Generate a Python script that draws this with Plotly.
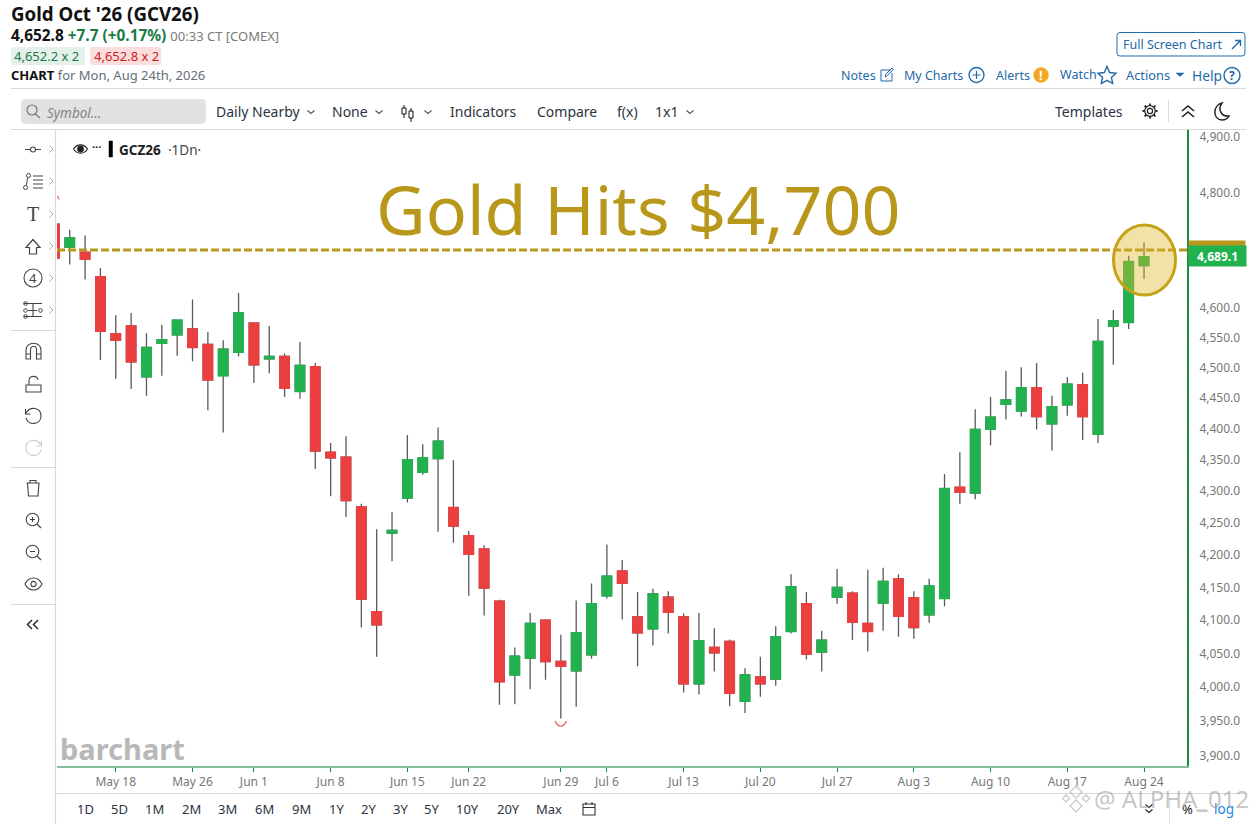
import math, re
import plotly.graph_objects as go

W, H = 1256, 824
FONT = "Noto Sans"

# Daily session numbers (session -1 is cut off by the left edge of the chart)
sessions = list(range(-1, 71))
opens = [4745, 4705, 4696, 4654, 4557, 4570, 4485, 4541, 4555, 4565, 4539, 4487, 4526, 4575, 4515, 4519,
         4461, 4502, 4362, 4354, 4275, 4113, 4234, 4289, 4330, 4352, 4274, 4230, 4209, 4129, 4018, 4043,
         4100, 4038, 4024, 4048, 4137, 4175, 4105, 4087, 4135, 4105, 4005, 4059, 4068, 3979, 4015, 4012,
         4083, 4125, 4052, 4135, 4141, 4095, 4126, 4163, 4134, 4108, 4133, 4306, 4297, 4399, 4440, 4429,
         4467, 4408, 4439, 4472, 4391, 4570, 4576, 4673]
highs = [4790, 4735, 4725, 4669, 4588, 4592, 4558, 4572, 4580, 4615, 4560, 4546, 4626, 4576, 4570, 4524,
         4543, 4508, 4377, 4388, 4280, 4240, 4267, 4390, 4375, 4402, 4349, 4237, 4215, 4131, 4059, 4111,
         4101, 4078, 4130, 4156, 4216, 4192, 4143, 4148, 4144, 4110, 4111, 4088, 4071, 4028, 4045, 4091,
         4170, 4143, 4084, 4178, 4144, 4177, 4180, 4170, 4144, 4163, 4327, 4362, 4432, 4452, 4495, 4501,
         4508, 4454, 4485, 4492, 4582, 4597, 4690, 4713]
lows = [4680, 4675, 4649, 4513, 4482, 4465, 4454, 4487, 4520, 4511, 4430, 4394, 4519, 4475, 4491, 4452,
        4449, 4335, 4292, 4259, 4089, 4045, 4190, 4282, 4326, 4236, 4219, 4137, 4107, 3974, 3975, 3997,
        4011, 3954, 3971, 4042, 4133, 4101, 4031, 4062, 4080, 3992, 3989, 4023, 3972, 3962, 3986, 4002,
        4080, 4041, 4023, 4125, 4070, 4053, 4084, 4075, 4072, 4096, 4121, 4280, 4287, 4373, 4415, 4420,
        4399, 4365, 4421, 4382, 4377, 4505, 4565, 4650]
closes = [4686, 4721, 4684, 4561, 4546, 4510, 4534, 4547, 4580, 4534, 4480, 4531, 4592, 4505, 4519, 4466,
          4504, 4364, 4353, 4285, 4132, 4093, 4238, 4350, 4353, 4380, 4245, 4201, 4149, 4008, 4046, 4095,
          4038, 4031, 4081, 4125, 4167, 4156, 4081, 4140, 4112, 4005, 4069, 4051, 3991, 4018, 4005, 4075,
          4151, 4049, 4070, 4150, 4097, 4083, 4159, 4106, 4089, 4152, 4304, 4298, 4399, 4419, 4447, 4467,
          4420, 4436, 4473, 4420, 4544, 4579, 4680, 4688]

tick_sessions = [3, 8, 12, 17, 22, 26, 32, 35, 40, 45, 50, 55, 60, 65, 70]
tick_labels = ["May 18", "May 26", "Jun 1", "Jun 8", "Jun 15", "Jun 22", "Jun 29", "Jul 6", "Jul 13",
               "Jul 20", "Jul 27", "Aug 3", "Aug 10", "Aug 17", "Aug 24"]
price_ticks = [4900, 4800, 4600, 4550, 4500, 4450, 4400, 4350, 4300, 4250, 4200, 4150, 4100, 4050, 4000,
               3950, 3900]
alert_level = 4700
last_price = 4689.1
range_buttons = ["1D", "5D", "1M", "2M", "3M", "6M", "9M", "1Y", "2Y", "3Y", "5Y", "10Y", "20Y", "Max"]
range_button_x = [85, 119, 154, 191, 228, 264, 301, 336, 368, 400, 431, 468, 508, 549]

UP, DOWN = "#22b14f", "#ec3f40"
GOLD = "#b8971a"
BLUE = "#1f6aa8"
INK = "#2b3440"
GREY = "#777777"


def fx(x):
    return x / W


def fy(y):
    return 1 - y / H


def pth(d):
    """Page-pixel path to paper coordinates."""
    toks = re.findall(r"[MLQCZ]|-?\d+\.?\d*", d)
    out = []
    isx = True
    for t in toks:
        if t in "MLQCZ":
            out.append(t)
            isx = True
        else:
            v = float(t)
            out.append(f"{fx(v):.5f}" if isx else f"{fy(v):.5f}")
            isx = not isx
    return " ".join(out)


shapes, notes = [], []


def P(d, color=INK, width=1.2, fill=None):
    shapes.append(dict(type="path", xref="paper", yref="paper", path=pth(d),
                       line=dict(color=color, width=width),
                       fillcolor=fill if fill else "rgba(0,0,0,0)", layer="above"))


def C(cx, cy, rx, ry=None, color=INK, width=1.2, fill=None):
    ry = rx if ry is None else ry
    shapes.append(dict(type="circle", xref="paper", yref="paper", x0=fx(cx - rx), x1=fx(cx + rx),
                       y0=fy(cy + ry), y1=fy(cy - ry), line=dict(color=color, width=width),
                       fillcolor=fill if fill else "rgba(0,0,0,0)", layer="above"))


def T(x, y, text, size=14, color=INK, anchor="left", family=FONT, **kw):
    notes.append(dict(xref="paper", yref="paper", x=fx(x), y=fy(y), text=text, showarrow=False,
                      xanchor=anchor, yanchor="middle", borderpad=0, borderwidth=0,
                      font=dict(family=family, size=size, color=color), **kw))


def chev(x, y, color="#555555"):
    P(f"M{x-3.5} {y-1.5} L{x} {y+1.5} L{x+3.5} {y-1.5}", color=color, width=1.1)


# ---------- page chrome ----------
T(11, 13, "<b>Gold Oct '26 (GCV26)</b>", 18.7, "#111111")
T(11, 35, "<b>4,652.8</b> <b><span style='color:#1c7a45'>+7.7 (+0.17%)</span></b> "
          "<span style='color:#7a7a7a;font-size:13px'>00:33 CT [COMEX]</span>", 15.4, "#111111")
T(14, 56.5, "4,652.2 x 2", 13, "#1f7a45")
T(94, 56.5, "4,652.8 x 2", 13, "#cc1b1b")
P("M14 47 L82 47 Q85 47 85 50 L85 62 Q85 65 82 65 L14 65 Q11 65 11 62 L11 50 Q11 47 14 47 Z",
  color="rgba(0,0,0,0)", width=0, fill="rgba(30,130,80,0.12)")
P("M93 47 L158 47 Q161 47 161 50 L161 62 Q161 65 158 65 L93 65 Q90 65 90 62 L90 50 Q90 47 93 47 Z",
  color="rgba(0,0,0,0)", width=0, fill="rgba(225,60,60,0.17)")
T(11, 75, "<b>CHART</b> <span style='color:#666e78'>for Mon, Aug 24th, 2026</span>", 13, "#111111")

for d in ("M11 88.5 L1246 88.5", "M11 129.5 L1246 129.5", "M56 793.5 L1246 793.5"):
    P(d, color="#d8d8d8", width=1)
P("M55.5 129 L55.5 824", color="#d8d8d8", width=1.2)

# search box
P("M26 99 L201 99 Q206 99 206 104 L206 119 Q206 124 201 124 L26 124 Q21 124 21 119 L21 104 Q21 99 26 99 Z",
  color="rgba(0,0,0,0)", width=0, fill="#e2e2e2")
C(32, 110, 5, color="#777777", width=1.2)
P("M35.5 114 L40 118", color="#777777", width=1.2)
T(47, 112.5, "<i>Symbol...</i>", 13.5, "#858585")

# toolbar
T(216, 112, "Daily Nearby", 14, INK)
chev(311, 112)
T(332, 112, "None", 14, INK)
chev(379, 112)
P("M404 105 L404 108 M404 114 L404 118 M411 108 L411 111 M411 118 L411 122", color="#111111", width=1)
P("M402 108 L406 108 L406 114 L402 114 Z M409 111 L413 111 L413 118 L409 118 Z", color="#111111", width=1)
chev(428, 112)
T(450, 112, "Indicators", 14, INK)
T(537, 112, "Compare", 14, INK)
T(617, 112, "f(x)", 14, INK)
T(655, 112, "1x1", 14, INK)
chev(690, 112)
T(1055, 112, "Templates", 14, INK)
C(1150, 111, 2.6, color="#222222", width=1.2)
C(1150, 111, 5.3, color="#222222", width=1.2)
for k in range(8):
    a = k * math.pi / 4
    x0, y0 = 1150 + 5.3 * math.cos(a), 111 + 5.3 * math.sin(a)
    x1, y1 = 1150 + 7.6 * math.cos(a), 111 + 7.6 * math.sin(a)
    P(f"M{x0:.2f} {y0:.2f} L{x1:.2f} {y1:.2f}", color="#222222", width=1.8)
P("M1168.5 100 L1168.5 122", color="#dddddd", width=1)
P("M1182 111 L1188 106 L1194 111 M1182 117 L1188 112 L1194 117", color="#222222", width=1.6)
P("M1222 103 C1213 105 1212 119 1222 120 C1226 120 1228 118 1229 116 C1222 117 1217 110 1222 103 Z",
  color="#222222", width=1.5)

# top right links
P("M1120 32.5 L1242 32.5 Q1245 32.5 1245 35.5 L1245 53 Q1245 56 1242 56 L1120 56 Q1117 56 1117 53 "
  "L1117 35.5 Q1117 32.5 1120 32.5 Z", color="#1f6fb2", width=1)
T(1123, 44.5, "Full Screen Chart", 12.5, BLUE)
P("M1232 49 L1240 41 M1235 40.5 L1240.5 40.5 L1240.5 46", color=BLUE, width=1.4)
T(841, 75, "Notes", 12.5, BLUE)
P("M891 70 L881 70 L881 81 L892 81 L892 73 M885 77 L886 74 L892 68 L893.5 69.5 L887.5 75.5 Z", color=BLUE, width=1)
T(904, 75, "My Charts", 12.5, BLUE)
C(976.5, 75, 7.5, color=BLUE, width=1.3)
P("M976.5 71 L976.5 79 M972.5 75 L980.5 75", color=BLUE, width=1.2)
T(996, 75.5, "Alerts", 12.5, BLUE)
C(1041, 75, 7.5, color="#f5a623", width=0.5, fill="#f5a623")
T(1041, 75, "<b>!</b>", 13, "#ffffff", anchor="center")
T(1060, 74.5, "Watch", 12.5, BLUE)
P("M1107 66.5 L1109.7 72.5 L1116 73.2 L1111.4 77.4 L1112.7 83.5 L1107 80.4 L1101.3 83.5 L1102.6 77.4 "
  "L1098 73.2 L1104.3 72.5 Z", color=BLUE, width=1.4)
T(1126, 75.5, "Actions", 12.8, BLUE)
P("M1176 73 L1184 73 L1180 76.5 Z", color=BLUE, width=0.5, fill=BLUE)
T(1192, 76, "Help", 13.8, BLUE)
C(1232, 75.5, 8, color=BLUE, width=1.4)
T(1232, 75.5, "<b>?</b>", 12, BLUE, anchor="center")

# sidebar
SI = "#444444"
for cy in (149, 181, 214, 246, 278, 310):
    P(f"M49.5 {cy-3.5} L53 {cy} L49.5 {cy+3.5}", color="#aaaaaa", width=1)
for y in (330, 467, 604):
    P(f"M11 {y}.5 L55 {y}.5", color="#d8d8d8", width=1)
P("M25 149.5 L30.5 149.5 M35.5 149.5 L41 149.5", color=SI, width=1.2)
C(33, 149.5, 2.5, color=SI, width=1.1)
C(28.5, 175.5, 2, color=SI, width=1)
C(25.5, 187.5, 2, color=SI, width=1)
P("M27.8 177.5 L26.2 185.5 M33 176 L43 176 M33 180 L43 180 M33 184 L43 184 M33 188 L43 188", color=SI, width=1)
T(33, 214, "T", 20, "#444444", anchor="center", family="Liberation Serif")
P("M33 239.5 L40 247.5 L36.5 247.5 L36.5 254 L29.5 254 L29.5 247.5 L26 247.5 Z", color=SI, width=1.2)
C(33, 278, 9, color=SI, width=1.1)
T(33, 278.5, "4", 13, "#444444", anchor="center")
P("M24 303.5 L42 303.5 M24 316.5 L42 316.5 M28 310.5 L37 310.5 M33 304 L33 316", color=SI, width=1.1)
C(25.5, 303.5, 1.8, color=SI, width=1)
C(25.5, 310.5, 1.8, color=SI, width=1)
C(25.5, 316.5, 1.8, color=SI, width=1)
C(40.5, 310.5, 1.8, color=SI, width=1)
P("M26 359 L26 350 C26 341 41 341 41 350 L41 359 L36.5 359 L36.5 350 C36.5 345 30.5 345 30.5 350 L30.5 359 Z"
  " M26 354 L30.5 354 M36.5 354 L41 354", color=SI, width=1.1)
P("M26 385 L41 385 L41 392 L26 392 Z M29 385 L29 381 C29 375 37 375 38 380", color=SI, width=1.1)
P("M25.5 409 L25.5 414 L30.5 414 M26 413 C30 406 41 407 41 416 C41 425 28 426 26 418", color=SI, width=1.1)
P("M41.5 441 L41.5 446 L36.5 446 M41 445 C37 438 26 439 26 448 C26 457 39 458 41 450", color="#cccccc", width=1.1)
P("M26.5 483 L39.5 483 M30 483 L30 480.5 L36 480.5 L36 483 M27.5 483 L28.5 496 L38 496 L39 483", color=SI, width=1.1)
C(32.5, 519.5, 6.3, color=SI, width=1.1)
P("M37 524 L41 528 M30 519.5 L35 519.5 M32.5 517 L32.5 522", color=SI, width=1.1)
C(32.5, 551.5, 6.3, color=SI, width=1.1)
P("M37 556 L41 560 M30 551.5 L35 551.5", color=SI, width=1.1)
P("M25 584 C29 576 38 576 42 584 C38 592 29 592 25 584 Z", color=SI, width=1.1)
C(33.5, 584, 2.6, color=SI, width=1.1)
P("M32 620 L27.5 624.5 L32 629 M38 620 L33.5 624.5 L38 629", color="#333333", width=1.6)

# legend row on chart
P("M73.5 149 C77 143.5 84 143.5 87.5 149 C84 154.5 77 154.5 73.5 149 Z", color="#222222", width=1.1)
C(80.5, 149, 3.2, color="#222222", width=0.5, fill="#222222")
T(92, 146.5, "<b>···</b>", 11, "#222222")
P("M109 141 L112.5 141 L112.5 157 L109 157 Z", color="#000000", width=0.5, fill="#000000")
T(119, 149.5, "<b>GCZ26</b>", 13.5, "#222222")
T(167.5, 149.5, "·1Dn·", 13.5, "#444444")

# big title and wordmark
T(638.5, 208.5, "Gold Hits $4,700", 68.2, GOLD, anchor="center")
T(60, 748, "<b>barchart</b>", 29, "#b8b8b8")

# bottom row
for lab, bx in zip(range_buttons, range_button_x):
    T(bx, 809, lab, 13, INK, anchor="center")
P("M583 804 L595 804 L595 815 L583 815 Z M583 807.5 L595 807.5 M586 802 L586 805 M592 802 L592 805",
  color="#333333", width=1.1)
chev(1149, 806, "#222222")
chev(1149, 811, "#222222")
P("M1169.5 798 L1169.5 824", color="#e0e0e0", width=1)
T(1182, 809, "%", 13, "#222222")
P("M1196 810 L1207 810", color="#bbbbbb", width=1)
T(1214, 809, "log", 13.5, "#1e88e5")
P("M1076 786 L1082 792 L1076 798 L1070 792 Z M1066 795 L1069.5 798.5 L1066 802 L1062.5 798.5 Z "
  "M1086 795 L1089.5 798.5 L1086 802 L1082.5 798.5 Z M1076 800 L1082 806 L1076 812 L1070 806 Z",
  color="rgba(170,170,170,0.55)", width=1.5)
T(1094, 798, "@ ALPHA_012", 24, "rgba(150,150,150,0.55)")

# ---------- chart overlays ----------
shapes.append(dict(type="line", xref="x", yref="y", x0=-0.83, x1=72.8, y0=alert_level, y1=alert_level,
                   line=dict(color=GOLD, width=3, dash="8px,3px"), layer="above"))
C(1144.5, 260, 31, 35, color="#c6a216", width=3, fill="rgba(224,185,44,0.41)")
notes.append(dict(xref="paper", yref="y", x=fx(1188), y=math.log10(alert_level), text="<b>4,700.0</b>",
                  showarrow=False, xanchor="left", yanchor="middle", width=56, height=18, borderpad=0,
                  bgcolor=GOLD, font=dict(family=FONT, size=12, color="#ffffff")))
notes.append(dict(xref="paper", yref="y", x=fx(1188), y=math.log10(last_price), text="<b>4,689.1</b>",
                  showarrow=False, xanchor="left", yanchor="middle", width=57, height=20, borderpad=0,
                  bgcolor=UP, font=dict(family=FONT, size=12, color="#ffffff")))
# high / low markers
P("M555 721 Q560.7 731.5 566.7 721", color="#e8412f", width=1.1)
P("M57.5 196 L59 199.5", color="#e8412f", width=1)

# ---------- chart: wicks first, then the open-close bodies on top ----------
wicks = go.Candlestick(
    x=sessions, open=opens, high=highs, low=lows, close=closes, showlegend=False, hoverinfo="skip",
    increasing=dict(line=dict(color="#5a5a5a", width=1.3), fillcolor=UP),
    decreasing=dict(line=dict(color="#5a5a5a", width=1.3), fillcolor=DOWN),
)
bodies = go.Candlestick(
    x=sessions, open=opens, close=closes,
    high=[max(o, c) for o, c in zip(opens, closes)],
    low=[min(o, c) for o, c in zip(opens, closes)],
    showlegend=False, hoverinfo="skip",
    increasing=dict(line=dict(color=UP, width=1.4), fillcolor=UP),
    decreasing=dict(line=dict(color=DOWN, width=1.4), fillcolor=DOWN),
)

fig = go.Figure([wicks, bodies])
fig.update_layout(
    width=W, height=H, margin=dict(l=0, r=0, t=0, b=0, pad=0, autoexpand=False),
    paper_bgcolor="#ffffff", plot_bgcolor="#ffffff", boxgap=0.12, dragmode=False,
    font=dict(family=FONT), shapes=shapes, annotations=notes, showlegend=False,
    xaxis=dict(domain=[57 / W, 1187 / W], range=[-0.83, 72.8], rangeslider=dict(visible=False),
               tickmode="array", tickvals=tick_sessions, ticktext=tick_labels, showgrid=False, zeroline=False,
               ticks="outside", ticklen=4, tickwidth=1, tickcolor="#1a8a3c", showline=True,
               linecolor="#84c09a", linewidth=2, tickfont=dict(family=FONT, size=12, color=GREY), anchor="y"),
    yaxis=dict(domain=[1 - 766 / H, 1 - 129 / H], type="log", range=[math.log10(3885.3), math.log10(4914.5)],
               side="right", tickmode="array", tickvals=price_ticks,
               ticktext=[f"{v:,.1f}" for v in price_ticks], showgrid=False, zeroline=False, ticks="",
               showline=True, linecolor="#1a8a3c", linewidth=2, ticklabelstandoff=8,
               tickfont=dict(family=FONT, size=12, color=GREY), anchor="x"),
)

fig.write_html("out.html", config=dict(displayModeBar=False),
               post_script="document.body.style.margin='0';document.body.style.overflow='hidden';")
